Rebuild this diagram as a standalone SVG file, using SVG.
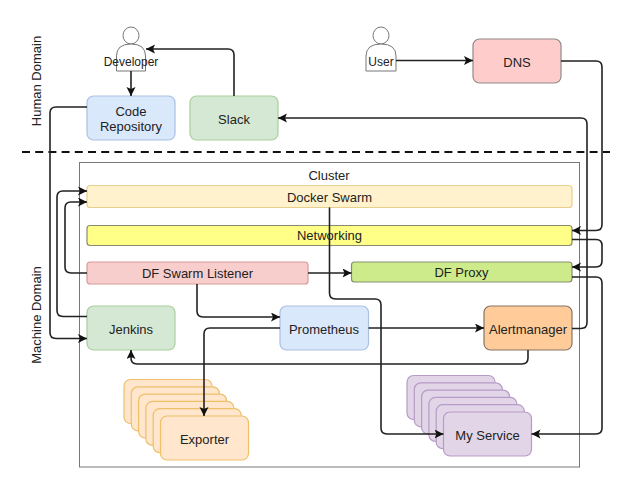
<svg xmlns="http://www.w3.org/2000/svg" width="640" height="480" viewBox="0 0 640 480">
<style>
text{font-family:"Liberation Sans",Arial,sans-serif;font-size:13px;fill:#222;text-anchor:middle}
.n{stroke-width:1.2}
.blue{fill:#dae8fc;stroke:#a9c0e2}
.green{fill:#d5e8d4;stroke:#a9cf9b}
.pink{fill:#f8cecc;stroke:#d89a98}
.dns{fill:#ffcccc;stroke:#8f8a8a}
.cream{fill:#fff2cc;stroke:#e8cf8c}
.yellow{fill:#ffff88;stroke:#8a8a70}
.lime{fill:#cdeb8b;stroke:#858f70}
.orange{fill:#ffcc99;stroke:#857565}
.peach{fill:#ffe6cc;stroke:#eec069}
.purple{fill:#e1d5e7;stroke:#b79cc6}
.c{fill:none;stroke:#222;stroke-width:1.6;stroke-linejoin:round}
.a{marker-end:url(#arrow)}
.actor{fill:#fff;stroke:#777;stroke-width:1}
.small{font-size:12px}
</style>
<defs>
<marker id="arrow" markerUnits="userSpaceOnUse" markerWidth="11" markerHeight="11" refX="9" refY="4.500" orient="auto">
<path d="M0 0L9 4.500L0 9L2 4.500Z" fill="#111"/>
</marker>
</defs>
<rect width="640" height="480" fill="#fff"/>
<text transform="translate(41 81) rotate(-90)">Human Domain</text>
<text transform="translate(41 315) rotate(-90)">Machine Domain</text>
<path d="M22 152H610" fill="none" stroke="#111" stroke-width="2" stroke-dasharray="8 5.2"/>
<g id="cluster"><rect x="79.500" y="162.500" width="500" height="304.500" fill="#fff" stroke="#777" stroke-width="1"/><text x="329" y="180">Cluster</text></g>
<g id="developer"><ellipse class="actor" cx="131" cy="35.500" rx="8" ry="8.500"/><path class="actor" d="M116.500 71V56Q116.500 44 131 44Q145.500 44 145.500 56V71Z"/><text class="small" x="131" y="65.500">Developer</text></g>
<g id="user"><ellipse class="actor" cx="381" cy="35.500" rx="8" ry="8.500"/><path class="actor" d="M366 71V56Q366 44 381 44Q396 44 396 56V71Z"/><text class="small" x="381" y="65.500">User</text></g>
<g id="code-repository"><rect class="n blue" x="87" y="96" width="88" height="44" rx="6.500"/><text x="131" y="116">Code</text><text x="131" y="131">Repository</text></g>
<g id="slack"><rect class="n green" x="190" y="96" width="88" height="44" rx="6.500"/><text x="234" y="124">Slack</text></g>
<g id="dns"><rect class="n dns" x="473" y="39" width="88" height="44" rx="6.500"/><text x="517" y="66.500">DNS</text></g>
<g id="docker-swarm"><rect class="n cream" x="87" y="185.500" width="485" height="22" rx="3.300"/><text x="329.500" y="202">Docker Swarm</text></g>
<g id="networking"><rect class="n yellow" x="87" y="225.500" width="485" height="20" rx="3"/><text x="329.500" y="240">Networking</text></g>
<g id="df-swarm-listener"><rect class="n pink" x="87" y="262" width="221" height="22" rx="3.300"/><text x="197.500" y="278">DF Swarm Listener</text></g>
<g id="df-proxy"><rect class="n lime" x="351.500" y="262" width="220.500" height="20" rx="3"/><text x="461.500" y="277">DF Proxy</text></g>
<g id="jenkins"><rect class="n green" x="87" y="306" width="88" height="44" rx="6.500"/><text x="131" y="334">Jenkins</text></g>
<g id="prometheus"><rect class="n blue" x="280" y="306" width="88.500" height="44" rx="6.500"/><text x="324" y="334">Prometheus</text></g>
<g id="alertmanager"><rect class="n orange" x="484" y="306" width="88" height="44" rx="6.500"/><text x="528" y="334">Alertmanager</text></g>
<g id="exporter">
<rect class="n peach" x="124" y="379.500" width="88" height="44" rx="6.500"/>
<rect class="n peach" x="131.300" y="386.800" width="88" height="44" rx="6.500"/>
<rect class="n peach" x="138.600" y="394.100" width="88" height="44" rx="6.500"/>
<rect class="n peach" x="145.900" y="401.400" width="88" height="44" rx="6.500"/>
<rect class="n peach" x="153.200" y="408.700" width="88" height="44" rx="6.500"/>
<rect class="n peach" x="160.500" y="416" width="88" height="44" rx="6.500"/>
<text x="204.500" y="444">Exporter</text></g>
<g id="my-service">
<rect class="n purple" x="407" y="375.500" width="88" height="44" rx="6.500"/>
<rect class="n purple" x="414.300" y="382.800" width="88" height="44" rx="6.500"/>
<rect class="n purple" x="421.600" y="390.100" width="88" height="44" rx="6.500"/>
<rect class="n purple" x="428.900" y="397.400" width="88" height="44" rx="6.500"/>
<rect class="n purple" x="436.200" y="404.700" width="88" height="44" rx="6.500"/>
<rect class="n purple" x="443.500" y="412" width="88" height="44" rx="6.500"/>
<text x="487.500" y="440">My Service</text></g>
<g id="connectors">
<path class="c a" d="M131 71V96"/>
<path class="c a" d="M234 96V55Q234 49 228 49H146"/>
<path class="c a" d="M396 60.500H473"/>
<path class="c a" d="M561 61H596Q602 61 602 67V224.500Q602 230.500 596 230.500H572"/>
<path class="c a" d="M572 328.500H581Q587 328.500 587 322.500V124Q587 118 581 118H278"/>
<path class="c a" d="M87 107H56Q50 107 50 113V332.500Q50 338.500 56 338.500H87"/>
<path class="c a" d="M87 316.500H63Q57 316.500 57 310.500V197Q57 191 63 191H87"/>
<path class="c a" d="M87 273H71Q65 273 65 267V208Q65 202 71 202H87"/>
<path class="c a" d="M197 284V311Q197 317 203 317H280"/>
<path class="c a" d="M308 273H351.500"/>
<path class="c a" d="M329.500 207.500V293Q329.500 299 335.500 299H375Q381 299 381 305V428Q381 434 387 434H443.500"/>
<path class="c a" d="M280 328H210Q204 328 204 334V416"/>
<path class="c a" d="M368.500 328H484"/>
<path class="c a" d="M528 350V358Q528 364 522 364H137Q131 364 131 358V350"/>
<path class="c a" d="M572 239.500H596Q602 239.500 602 245.500V261Q602 267 596 267H572"/>
<path class="c a" d="M572 277H596Q602 277 602 283V428Q602 434 596 434H531.500"/>
</g>
</svg>
